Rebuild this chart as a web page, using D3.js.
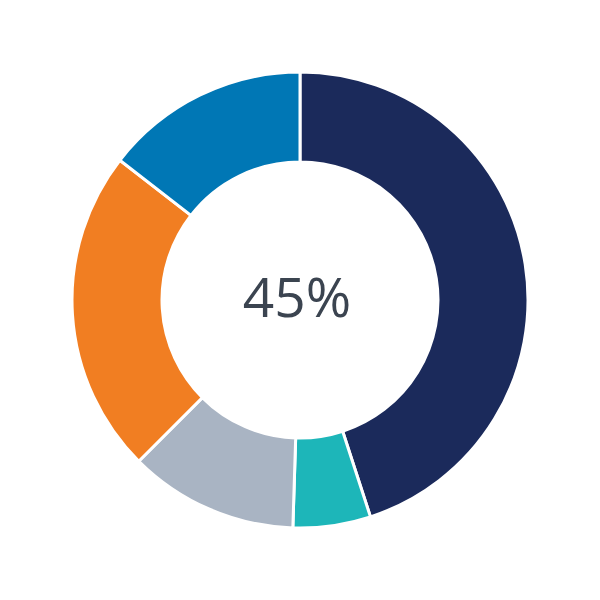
<!DOCTYPE html>
<html lang="en">
<head>
    <meta charset="UTF-8">
    <script src="https://cdn.jsdelivr.net/npm/d3@7"></script>
    <style>
        html, body {
            margin: 0px;
            padding: 0px;
            background-color: #ffffff;
            font-family: "Open Sans", sans-serif;
        }
    </style>
</head>
<body>
    <div id="chart"></div>
    <script>
        // segments clockwise from 12 o'clock
        let labels = ['A', 'B', 'C', 'D', 'E'];
        let values = [45, 5.5, 12, 23, 14.5];
        let colours = ['#1b2a5b', '#1db6b9', '#a9b4c3', '#f17e22', '#0077b5'];
        let centreLabel = '45%';

        let width = 600;
        let height = 600;
        let outer = 228;
        let inner = 138;

        let svg = d3.select('#chart').append('svg')
            .attr('width', width)
            .attr('height', height);

        let g = svg.append('g')
            .attr('transform', `translate(${width / 2},${height / 2})`);

        let pie = d3.pie().sort(null).value((d, i) => values[i]);
        let arc = d3.arc().innerRadius(inner).outerRadius(outer);

        g.selectAll('path')
            .data(pie(labels))
            .join('path')
            .attr('d', arc)
            .attr('fill', (d, i) => colours[i])
            .attr('stroke', '#fff')
            .attr('stroke-width', 3);

        g.append('text')
            .attr('text-anchor', 'middle')
            .attr('x', -3)
            .attr('y', 17)
            .attr('fill', '#3b4450')
            .style('font-size', '55px')
            .text(centreLabel);
    </script>
</body>
</html>
